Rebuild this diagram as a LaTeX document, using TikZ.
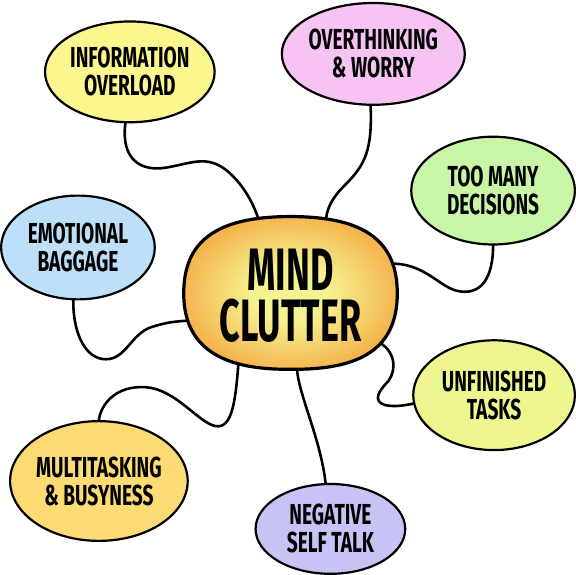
\documentclass[tikz,border=0pt]{standalone}
\usepackage{fontspec}
\usetikzlibrary{shapes.geometric}
\newfontfamily\handfont[FakeStretch=0.66]{Fira Sans}
\newfontfamily\handbig[FakeStretch=0.6]{Fira Sans}
\definecolor{cinfo}{HTML}{FBF68E}
\definecolor{cover}{HTML}{F7C3F2}
\definecolor{cdec}{HTML}{C9F5A6}
\definecolor{cemo}{HTML}{BDE0F8}
\definecolor{cunf}{HTML}{EEF78F}
\definecolor{cmulti}{HTML}{FCDB74}
\definecolor{cneg}{HTML}{C7C3F5}
\definecolor{cin}{HTML}{F5F290}
\definecolor{cout}{HTML}{F5A43C}
\pgfdeclareradialshading{mindshade}{\pgfpoint{0bp}{0bp}}{color(0bp)=(cin); color(9bp)=(cin); color(30bp)=(cout); color(50bp)=(cout)}
\pgfdeclarelayer{back}
\pgfdeclarelayer{mid}
\pgfsetlayers{back,mid,main}
\begin{document}
\begin{tikzpicture}[x=1pt,y=-1pt,
  bubble/.style={ellipse, draw=black, line width=2.2pt, inner sep=0pt, align=center,
    font=\handfont\bfseries\fontsize{29}{28}\selectfont},
  link/.style={line width=2.6pt, line cap=round},
  blob/.style={draw=black, line width=3.2pt, shading=mindshade}]
\begin{pgfonlayer}{back}
\useasboundingbox[fill=white] (0,0) rectangle (576,576);
\end{pgfonlayer}
% central
\node[ellipse, inner sep=0pt, minimum width=214pt, minimum height=152pt, align=center,
  font=\handbig\bfseries\fontsize{60}{51}\selectfont] (mind) at (290,296) {MIND\\CLUTTER};
\begin{pgfonlayer}{mid}
\path[blob] (290,217) .. controls (365,217) and (397,242) .. (397,294)
  .. controls (397,348) and (362,371) .. (290,370)
  .. controls (218,371) and (183,346) .. (183,294)
  .. controls (183,242) and (215,217) .. cycle;
\end{pgfonlayer}
% satellites
\node[bubble, fill=cinfo, minimum width=170pt, minimum height=101pt] (info) at (129,72) {INFORMATION\\OVERLOAD};
\node[bubble, fill=cover, minimum width=178pt, minimum height=102pt] (over) at (373,54) {OVERTHINKING\\\& WORRY};
\node[bubble, fill=cdec, minimum width=164pt, minimum height=108pt] (dec) at (493,191) {TOO MANY\\DECISIONS};
\node[bubble, fill=cemo, minimum width=154pt, minimum height=104pt] (emo) at (77,248) {EMOTIONAL\\BAGGAGE};
\node[bubble, fill=cunf, minimum width=162pt, minimum height=110pt] (unf) at (494,396) {UNFINISHED\\TASKS};
\node[bubble, fill=cmulti, minimum width=176pt, minimum height=120pt] (multi) at (98,482) {MULTITASKING\\\& BUSYNESS};
\node[bubble, fill=cneg, minimum width=150pt, minimum height=90pt] (neg) at (330,530) {NEGATIVE\\SELF TALK};
% connectors
\begin{pgfonlayer}{back}
\draw[link] (info.265) .. controls (120,160) and (140,172) .. (165,168)
  .. controls (190,164) and (205,155) .. (225,170)
  .. controls (240,182) and (252,200) .. (mind.113);
\draw[link] (over.-93) .. controls (372,150) and (365,165) .. (345,185)
  .. controls (332,198) and (326,208) .. (mind.64);
\draw[link] (dec.-90) .. controls (493,280) and (480,295) .. (460,292)
  .. controls (440,290) and (425,262) .. (mind.18);
\draw[link] (emo.-95) .. controls (72,335) and (85,360) .. (105,360)
  .. controls (125,360) and (130,335) .. (150,328)
  .. controls (165,323) and (175,322) .. (mind.194);
\draw[link] (mind.-28) .. controls (395,350) and (397,370) .. (388,382)
  .. controls (378,392) and (372,402) .. (385,406)
  .. controls (395,408) and (405,406) .. (unf.186);
\draw[link] (mind.232) .. controls (235,400) and (232,430) .. (215,427)
  .. controls (198,424) and (175,390) .. (145,388)
  .. controls (115,386) and (100,405) .. (multi.90);
\draw[link] (mind.-85) .. controls (300,400) and (320,440) .. (neg.96);
\end{pgfonlayer}
\end{tikzpicture}
\end{document}
